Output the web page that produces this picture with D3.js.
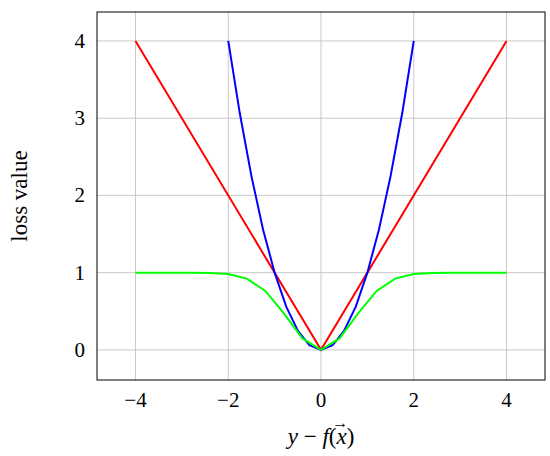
<!DOCTYPE html>
<html lang="en">
<head>
<meta charset="UTF-8">
<title>loss</title>
<style>body{margin:0;background:#fff}</style>
</head>
<body>
<script src="https://d3js.org/d3.v7.min.js"></script>
<script>
const xTicks = [-4, -2, 0, 2, 4];
const yTicks = [0, 1, 2, 3, 4];
const redX = [-4, 0, 4];
const redY = [4, 0, 4];
const blueX = [-2, -1.75, -1.5, -1.25, -1, -0.75, -0.5, -0.25, 0, 0.25, 0.5, 0.75, 1, 1.25, 1.5, 1.75, 2];
const blueY = [4, 3.06, 2.25, 1.56, 1, 0.56, 0.25, 0.06, 0, 0.06, 0.25, 0.56, 1, 1.56, 2.25, 3.06, 4];
const greenX = [-4, -3.6, -3.2, -2.8, -2.4, -2, -1.6, -1.2, -0.8, -0.4, 0, 0.4, 0.8, 1.2, 1.6, 2, 2.4, 2.8, 3.2, 3.6, 4];
const greenY = [1, 1, 1, 1, 0.997, 0.982, 0.923, 0.763, 0.473, 0.148, 0, 0.148, 0.473, 0.763, 0.923, 0.982, 0.997, 1, 1, 1, 1];

const w = 550, h = 456;
const m = {left: 97, right: 5, top: 12, bottom: 76};
const svg = d3.select("body").append("svg").attr("width", w).attr("height", h)
    .style("font-family", "'Liberation Serif', serif");
const x = d3.scaleLinear().domain([-4.83, 4.83]).range([m.left, w - m.right]);
const y = d3.scaleLinear().domain([-0.39, 4.375]).range([h - m.bottom, m.top]);

const grid = svg.append("g").attr("stroke", "#bbb").attr("stroke-width", 0.8);
xTicks.forEach(t => grid.append("line").attr("x1", x(t)).attr("x2", x(t)).attr("y1", y.range()[0]).attr("y2", y.range()[1]));
yTicks.forEach(t => grid.append("line").attr("y1", y(t)).attr("y2", y(t)).attr("x1", x.range()[0]).attr("x2", x.range()[1]));

const line = d3.line().x(d => x(d[0])).y(d => y(d[1]));
const series = [[redX, redY, "#ff0000"], [blueX, blueY, "#0000ff"], [greenX, greenY, "#00ff00"]];
series.forEach(([xs, ys, c]) => svg.append("path").datum(xs.map((v, i) => [v, ys[i]]))
    .attr("d", line).attr("fill", "none").attr("stroke", c).attr("stroke-width", 2));

svg.append("rect").attr("x", m.left).attr("y", m.top).attr("width", w - m.left - m.right)
    .attr("height", h - m.top - m.bottom).attr("fill", "none").attr("stroke", "#000");

const fmt = t => t < 0 ? "\u2212" + Math.abs(t) : String(t);
svg.selectAll(".xt").data(xTicks).enter().append("text").attr("x", d => x(d)).attr("y", y.range()[0] + 27)
    .attr("text-anchor", "middle").attr("font-size", 21).text(fmt);
svg.selectAll(".yt").data(yTicks).enter().append("text").attr("x", m.left - 12).attr("y", d => y(d) + 7)
    .attr("text-anchor", "end").attr("font-size", 21).text(fmt);

svg.append("text").attr("transform", `translate(27,${(m.top + h - m.bottom) / 2}) rotate(-90)`)
    .attr("text-anchor", "middle").attr("font-size", 23).text("loss value");
const xl = svg.append("text").attr("x", x(0)).attr("y", 444).attr("text-anchor", "middle").attr("font-size", 23);
xl.html('<tspan font-style="italic">y</tspan> \u2212 <tspan font-style="italic">f</tspan>(<tspan font-style="italic">x</tspan>)');
const xb = xl.node().getBBox();
// arrow over the x
svg.append("text").attr("x", xb.x + xb.width - 14).attr("y", 428).attr("text-anchor", "middle")
    .attr("font-size", 16).text("\u2192");
</script>
</body>
</html>
